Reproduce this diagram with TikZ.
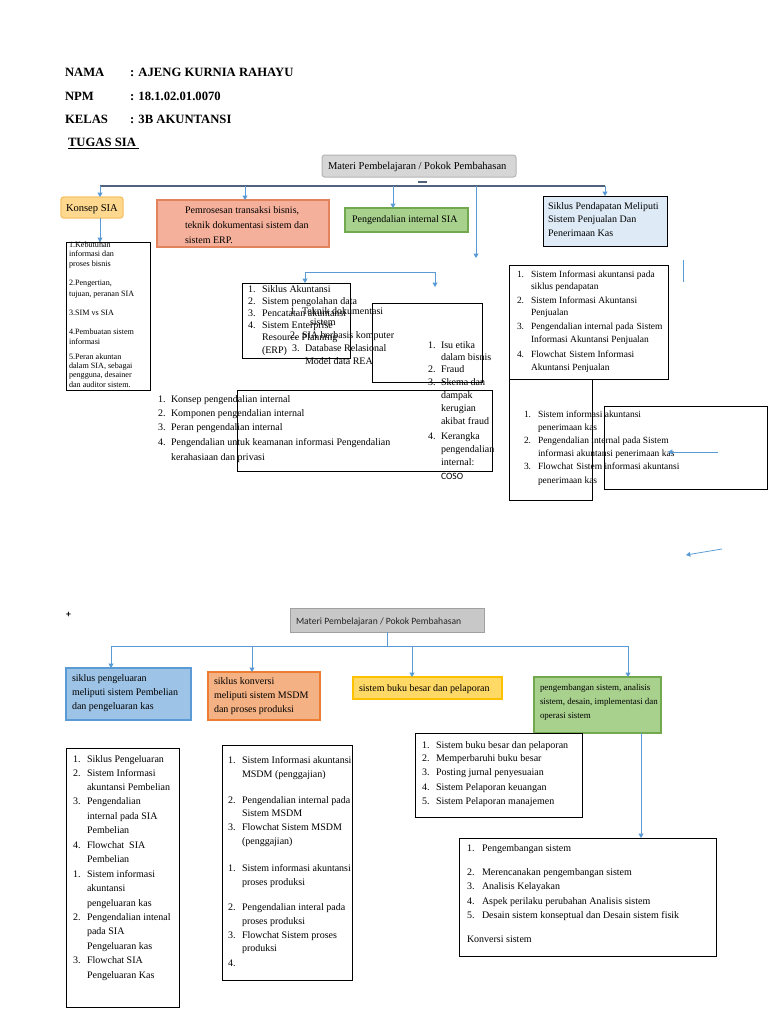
\documentclass[tikz,border=0pt]{standalone}
\usepackage{fontspec}
\setmainfont{Liberation Serif}
\newfontfamily\calfont{Carlito}
\usetikzlibrary{arrows.meta}
\definecolor{arrblue}{HTML}{5B9BD5}
\definecolor{busgray}{HTML}{50627D}
\definecolor{grayfill}{HTML}{D6D6D6}
\definecolor{graydraw}{HTML}{B4B4B4}
\definecolor{grayfillb}{HTML}{C8C8C8}
\definecolor{graydrawb}{HTML}{A0A0A0}
\definecolor{konfill}{HTML}{FDD88E}
\definecolor{kondraw}{HTML}{F7C46A}
\definecolor{pemfill}{HTML}{F5B09B}
\definecolor{pemdraw}{HTML}{E3835D}
\definecolor{grfill}{HTML}{A9D18E}
\definecolor{grdraw}{HTML}{72A84E}
\definecolor{ltblue}{HTML}{DEEBF7}
\definecolor{bfill}{HTML}{9DC3E6}
\definecolor{bdraw}{HTML}{5B9BD5}
\definecolor{ofill}{HTML}{F4B183}
\definecolor{odraw}{HTML}{ED7D31}
\definecolor{yfill}{HTML}{FFD966}
\definecolor{ydraw}{HTML}{FFC000}
\newcounter{tlc}
\newcommand\wline[3][]{\stepcounter{tlc}\node[txt,#1] (w\arabic{tlc}) at (#2) {#3};}
\newcommand\witem[6][]{\wline[#1]{#2,#4}{#5}\wline[#1]{#3,#4}{#6}}
\newcommand\bx[6][]{\node[#1,anchor=north west,inner sep=0pt,outer sep=0pt,minimum width={(#5-#3)*0.75pt},minimum height={(#6-#4)*0.75pt}] (#2) at (#3,#4) {};}
\tikzset{
  txt/.style={anchor=base west, inner sep=0pt, outer sep=0pt, font=\fontsize{7.5}{9}\selectfont},
  tinyt/.style={font=\fontsize{6.1}{7}\selectfont},
  hdr/.style={font=\fontsize{9.5}{11}\bfseries\selectfont},
  sanst/.style={font=\calfont\fontsize{7.2}{8.5}\selectfont},
  bigt/.style={font=\fontsize{7.9}{9}\selectfont},
  smallt/.style={font=\fontsize{6.7}{8}\selectfont},
  midt/.style={font=\fontsize{7.1}{8.5}\selectfont},
  plain/.style={draw=black, line width=0.75pt},
  mboxa/.style={draw=graydraw, fill=grayfill, rounded corners=2pt, line width=0.75pt},
  mboxb/.style={draw=graydrawb, fill=grayfillb, line width=0.75pt},
  konst/.style={draw=kondraw, fill=konfill, rounded corners=2pt, line width=1pt},
  pemst/.style={draw=pemdraw, fill=pemfill, line width=1pt},
  grst/.style={draw=grdraw, fill=grfill, line width=1pt},
  sikst/.style={draw=black, fill=ltblue, line width=0.75pt},
  bluest/.style={draw=bdraw, fill=bfill, line width=1.1pt},
  orst/.style={draw=odraw, fill=ofill, line width=1pt},
  yelst/.style={draw=ydraw, fill=yfill, line width=1pt},
  arr/.style={draw=arrblue, line width=0.6pt, -{Triangle[width=3.6pt,length=3.2pt]}},
  busa/.style={draw=busgray, line width=1pt},
  busb/.style={draw=arrblue, line width=0.6pt},
}
\begin{document}
\begin{tikzpicture}[x=0.75pt,y=-0.75pt]
\fill[white] (0,0) rectangle (768,1024);
\useasboundingbox (0,0) rectangle (768,1024);
% header
\wline[hdr]{65,77}{NAMA}\wline[hdr]{130,77}{: AJENG KURNIA RAHAYU}
\wline[hdr]{65,100}{NPM}\wline[hdr]{130,100}{: 18.1.02.01.0070}
\wline[hdr]{65,123}{KELAS}\wline[hdr]{130,123}{: 3B AKUNTANSI}
\wline[hdr]{68,146}{\underline{TUGAS SIA\ }}
% ===== section 1 =====
\bx[mboxa]{m1}{322}{155}{516}{177}
\wline[bigt]{328,169}{Materi Pembelajaran / Pokok Pembahasan}
\coordinate (d1) at (418,182); \coordinate (d2) at (427,182);
\draw[busa] (d1) -- (d2);
\coordinate (b1) at (100,186); \coordinate (b2) at (245,186);
\coordinate (b3) at (393,186); \coordinate (b4) at (476,186);
\coordinate (b5) at (605,186); \coordinate (e4) at (476,258);
\draw[busa] (b1) -- (b5);
\bx[konst]{konsep}{61}{197}{123}{218}
\wline[bigt]{66,211}{Konsep SIA}
\bx[pemst]{pem}{157}{200}{329}{247}
\wline{185,213}{Pemrosesan transaksi bisnis,}
\wline{185,228}{teknik dokumentasi sistem dan}
\wline{185,243}{sistem ERP.}
\bx[grst]{peng}{345}{208}{468}{232}
\wline{352,222}{Pengendalian internal SIA}
\bx[sikst]{sik}{543}{196}{667}{246}
\wline{548,209}{Siklus Pendapatan Meliputi}
\wline{548,222}{Sistem Penjualan Dan}
\wline{548,236}{Penerimaan Kas}
\draw[arr] (b1) -- (b1 |- konsep.north);
\draw[arr] (b2) -- (b2 |- pem.north);
\draw[arr] (b3) -- (b3 |- peng.north);
\draw[arr] (b4) -- (e4);
\draw[arr] (b5) -- (b5 |- sik.north);
% left small box
\bx[plain]{lb}{66}{242}{150}{390}
\draw[arr] (konsep.south -| b1) -- (lb.north -| b1);
\wline[tinyt]{69,247}{1.Kebutuhan}
\wline[tinyt]{69,256}{informasi dan}
\wline[tinyt]{69,266}{proses bisnis}
\wline[tinyt]{69,285}{2.Pengertian,}
\wline[tinyt]{69,296}{tujuan, peranan SIA}
\wline[tinyt]{69,315}{3.SIM vs SIA}
\wline[tinyt]{69,334}{4.Pembuatan sistem}
\wline[tinyt]{69,344}{informasi}
\wline[tinyt]{69,359}{5.Peran akuntan}
\wline[tinyt]{69,368}{dalam SIA, sebagai}
\wline[tinyt]{69,377}{pengguna, desainer}
\wline[tinyt]{69,387}{dan auditor sistem.}
% bracket under pengendalian
\coordinate (k1) at (305,272); \coordinate (k2) at (435,272); \coordinate (k2e) at (435,287);
\draw[busb] (k1) -- (k2);
\bx[plain]{ba}{242}{283}{350}{358}
\bx[plain]{bb}{372}{303}{482}{382}
\bx[plain]{bc}{237}{390}{492}{471}
\draw[arr] (k1) -- (k1 |- ba.north);
\draw[arr] (k2) -- (k2e);
% box A text
\witem{248}{262}{292}{1.}{Siklus Akuntansi}
\witem{248}{262}{304}{2.}{Sistem pengolahan data}
\witem{248}{262}{316}{3.}{Pencatatan akuntansi}
\witem{248}{262}{328}{4.}{Sistem Enterprise}
\wline{262,340}{Resource Planning}
\wline{262,353}{(ERP)}
\witem{290}{302}{314}{1.}{Teknik dokumentasi}
\wline{310,325}{sistem}
\witem{290}{302}{338}{2.}{SIA berbasis komputer}
\witem{292}{305}{351}{3.}{Database Relasional}
\wline{305,364}{Model data REA}
% box B text
\witem{428}{441}{348}{1.}{Isu etika}
\wline{441,360}{dalam bisnis}
\witem{428}{441}{372}{2.}{Fraud}
\witem{428}{441}{385}{3.}{Skema dan}
\wline{441,398}{dampak}
\wline{441,411}{kerugian}
\wline{441,424}{akibat fraud}
\witem{428}{441}{439}{4.}{Kerangka}
\wline{441,452}{pengendalian}
\wline{441,465}{internal:}
\wline[sanst]{441,479}{COSO}
% box C text
\witem{158}{171}{402}{1.}{Konsep pengendalian internal}
\witem{158}{171}{416}{2.}{Komponen pengendalian internal}
\witem{158}{171}{430}{3.}{Peran pengendalian internal}
\witem{158}{171}{445}{4.}{Pengendalian untuk keamanan informasi Pengendalian}
\wline{171,460}{kerahasiaan dan privasi}
% right boxes
\bx[plain]{dd}{509}{379}{592}{500}
\bx[plain]{dc}{509}{265}{668}{379}
\bx[plain]{de}{604}{406}{767}{489}
\witem[midt]{517}{531}{277}{1.}{Sistem Informasi akuntansi pada}
\wline[midt]{531,289}{siklus pendapatan}
\witem[midt]{517}{531}{303}{2.}{Sistem Informasi Akuntansi}
\wline[midt]{531,315}{Penjualan}
\witem[midt]{517}{531}{329}{3.}{Pengendalian internal pada\,\,Sistem}
\wline[midt]{531,342}{Informasi Akuntansi Penjualan}
\witem[midt]{517}{531}{357}{4.}{Flowchat\,\,Sistem Informasi}
\wline[midt]{531,370}{Akuntansi Penjualan}
\witem[midt]{524}{538}{417}{1.}{Sistem informasi akuntansi}
\wline[midt]{538,430}{penerimaan kas}
\witem[midt]{524}{538}{443}{2.}{Pengendalian internal pada Sistem}
\wline[midt]{538,456}{informasi akuntansi penerimaan kas}
\witem[midt]{524}{538}{469}{3.}{Flowchat\,\,Sistem informasi akuntansi}
\wline[midt]{538,483}{penerimaan kas}
\coordinate (r1) at (718,452); \coordinate (r2) at (668,452);
\coordinate (r3) at (722,549); \coordinate (r4) at (686,555);
\draw[arr] (r1) -- (r2);
\draw[arr] (r3) -- (r4);
\coordinate (v1) at (683,260); \coordinate (v2) at (683,282);
\draw[busb] (v1) -- (v2);
% ===== section 2 =====
\wline[sanst]{66,617}{\textbf{+}}
\bx[mboxb]{m2}{290}{608}{484}{632}
\wline[sanst]{296,624}{\color{black!85}Materi Pembelajaran / Pokok Pembahasan}
\coordinate (c1) at (111,646); \coordinate (c2) at (252,646);
\coordinate (c3) at (412,646); \coordinate (c4) at (628,646);
\draw[busb] (m2.south) -- (m2.south |- c1);
\draw[busb] (c1) -- (c4);
\bx[bluest]{pb}{66}{668}{191}{720}
\bx[orst]{po}{208}{672}{320}{720}
\bx[yelst]{py}{353}{677}{502}{699}
\bx[grst]{pg}{534}{677}{661}{733}
\draw[arr] (c1) -- (c1 |- pb.north);
\draw[arr] (c2) -- (c2 |- po.north);
\draw[arr] (c3) -- (c3 |- py.north);
\draw[arr] (c4) -- (c4 |- pg.north);
\wline{72,681}{siklus pengeluaran}
\wline{72,695}{meliputi sistem Pembelian}
\wline{72,709}{dan pengeluaran kas}
\wline{214,684}{siklus konversi}
\wline{214,698}{meliputi sistem MSDM}
\wline{214,712}{dan proses produksi}
\wline{359,691}{sistem buku besar dan pelaporan}
\wline[smallt]{540,690}{pengembangan sistem, analisis}
\wline[smallt]{540,704}{sistem, desain, implementasi dan}
\wline[smallt]{540,718}{operasi sistem}
% lower boxes
\bx[plain]{q1}{66}{748}{179}{1007}
\witem{73}{87}{762}{1.}{Siklus Pengeluaran}
\witem{73}{87}{776}{2.}{Sistem Informasi}
\wline{87,790}{akuntansi Pembelian}
\witem{73}{87}{804}{3.}{Pengendalian}
\wline{87,819}{internal pada SIA}
\wline{87,833}{Pembelian}
\witem{73}{87}{848}{4.}{Flowchat\ \ SIA}
\wline{87,862}{Pembelian}
\witem{73}{87}{877}{1.}{Sistem informasi}
\wline{87,891}{akuntansi}
\wline{87,906}{pengeluaran kas}
\witem{73}{87}{920}{2.}{Pengendalian intenal}
\wline{87,934}{pada SIA}
\wline{87,949}{Pengeluaran kas}
\witem{73}{87}{963}{3.}{Flowchat SIA}
\wline{87,978}{Pengeluaran Kas}
\bx[plain]{q2}{222}{745}{352}{980}
\witem{228}{242}{763}{1.}{Sistem Informasi akuntansi}
\wline{242,777}{MSDM (penggajian)}
\witem{228}{242}{803}{2.}{Pengendalian internal pada}
\wline{242,816}{Sistem MSDM}
\witem{228}{242}{830}{3.}{Flowchat Sistem MSDM}
\wline{242,844}{(penggajian)}
\witem{228}{242}{871}{1.}{Sistem informasi akuntansi}
\wline{242,885}{proses produksi}
\witem{228}{242}{910}{2.}{Pengendalian interal pada}
\wline{242,924}{proses produksi}
\witem{228}{242}{938}{3.}{Flowchat Sistem proses}
\wline{242,951}{produksi}
\wline{228,966}{4.}
\bx[plain]{q3}{415}{733}{582}{817}
\witem{422}{436}{748}{1.}{Sistem buku besar dan pelaporan}
\witem{422}{436}{761}{2.}{Memperbaruhi buku besar}
\witem{422}{436}{775}{3.}{Posting jurnal penyesuaian}
\witem{422}{436}{790}{4.}{Sistem Pelaporan keuangan}
\witem{422}{436}{804}{5.}{Sistem Pelaporan manajemen}
\bx[plain]{q4}{459}{838}{716}{956}
\witem{467}{482}{851}{1.}{Pengembangan sistem}
\witem{467}{482}{875}{2.}{Merencanakan pengembangan sistem}
\witem{467}{482}{889}{3.}{Analisis Kelayakan}
\witem{467}{482}{904}{4.}{Aspek perilaku perubahan Analisis sistem}
\witem{467}{482}{918}{5.}{Desain sistem konseptual dan Desain sistem fisik}
\wline{467,942}{Konversi sistem}
\coordinate (gx) at (641,740);
\draw[arr] (gx |- pg.south) -- (gx |- q4.north);
\end{tikzpicture}
\end{document}
